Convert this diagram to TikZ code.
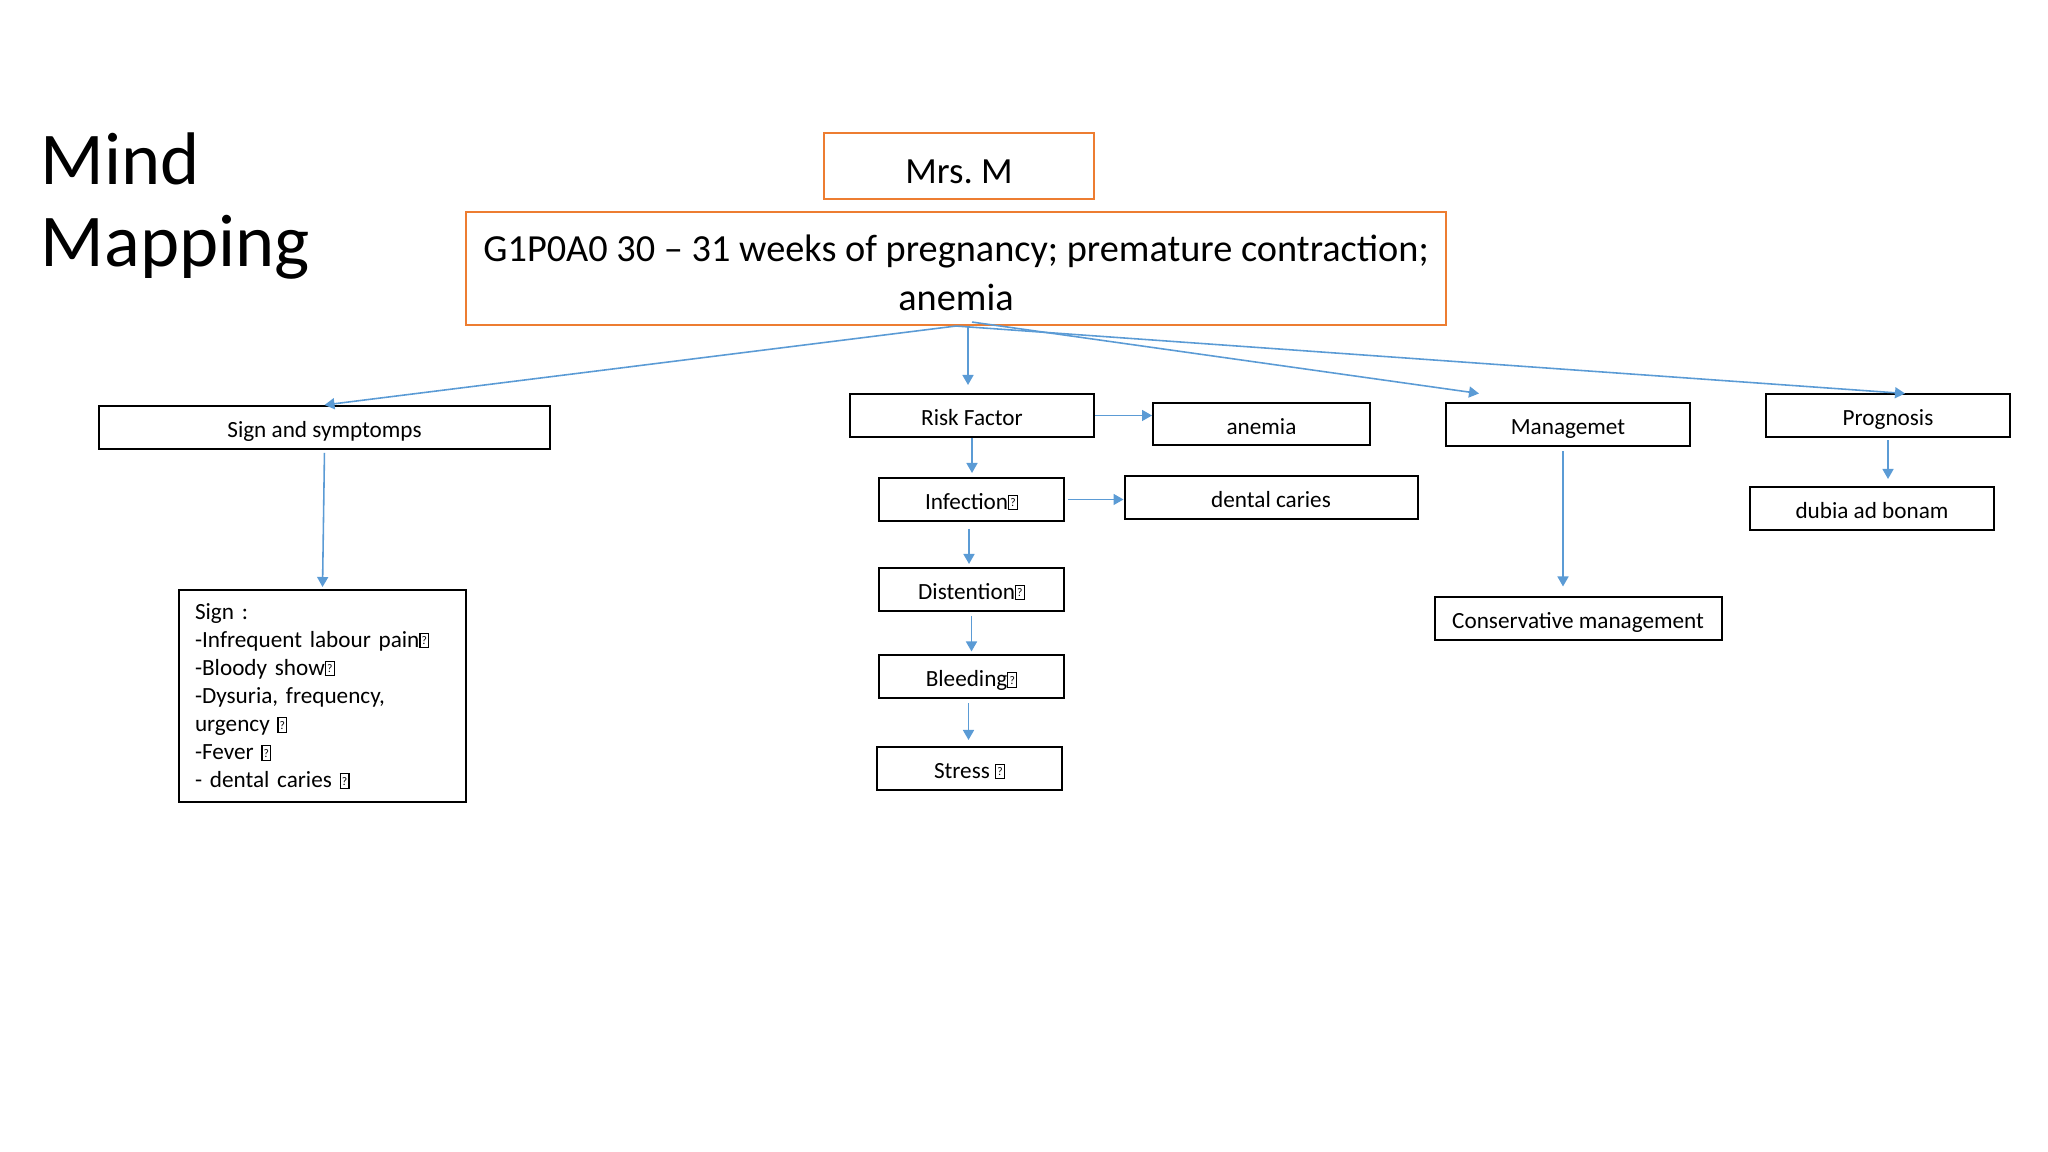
\documentclass[tikz,border=0pt]{standalone}
\usepackage{fontspec}
\setmainfont{Carlito}
\usetikzlibrary{arrows.meta}

\definecolor{linkblue}{HTML}{5B9BD5}
\definecolor{caseorange}{HTML}{ED7D31}

% small framed question mark (a glyph the slide font lacked)
\newcommand{\qbox}{{\setlength{\fboxsep}{0pt}\setlength{\fboxrule}{0.3pt}%
  \fbox{\makebox[2.2pt]{\rule{0pt}{3.8pt}\raisebox{0.7pt}{\fontsize{3.3}{3.3}\selectfont ?}}}}}
% lower a text inside its frame without changing the frame
\newcommand{\lowered}[2]{\raisebox{-#1}[\height][\depth]{#2}}

\begin{document}
\begin{tikzpicture}[x=0.1mm, y=-0.1mm,
  title/.style={font=\fontsize{21.2}{23}\selectfont, inner sep=0pt},
  casebox/.style={draw=caseorange, line width=0.6pt, inner sep=0pt},
  item/.style={draw=black, line width=0.57pt, inner sep=0pt,
    minimum height=4.3mm, text height=6.7pt, text depth=1.1pt,
    font=\fontsize{6.6}{8}\selectfont},
  link/.style={draw=linkblue, line width=0.45pt,
    -{Triangle[length=1mm, width=1.1mm]}}]

  \useasboundingbox (0,0) rectangle (2048,1152);

  % ---- Title ----
  \node[title, anchor=base west] (mind) at (40,185) {Mind};
  \node[title, anchor=base west] (mapping) at (40,267) {Mapping};

  % ---- Patient and diagnosis ----
  \node[casebox, minimum width=27mm, minimum height=6.6mm,
    font=\fontsize{10.5}{12}\selectfont] (mrs) at (959,166) {\lowered{0.6mm}{Mrs.\ M}};
  \node[casebox, minimum width=98mm, minimum height=11.3mm,
    font=\fontsize{10.9}{14.2}\selectfont] (main) at (956,268.5)
    {\lowered{0.75mm}{\begin{tabular}{@{}c@{}}G1P0A0 30 -- 31 weeks of pregnancy; premature contraction;\\ anemia\end{tabular}}};

  % ---- First level ----
  \node[item, minimum width=45.1mm] (sign) at (324.5,427.5) {Sign and symptomps};
  \node[item, minimum width=24.4mm] (risk) at (972,415.5) {Risk Factor};
  \node[item, minimum width=21.7mm, minimum height=4.2mm] (anemia) at (1261.5,424.5) {anemia};
  \node[item, minimum width=24.4mm, minimum height=4.3mm] (manage) at (1568,425) {Managemet};
  \node[item, minimum width=24.4mm] (prog) at (1888,416) {Prognosis};

  % ---- Risk factor chain ----
  \node[item, minimum width=18.5mm] (infect) at (971.5,499.5) {Infection\qbox};
  \node[item, minimum width=29.3mm] (caries) at (1271,497.5) {dental caries};
  \node[item, minimum width=18.5mm] (distent) at (971.5,589.5) {Distention\qbox};
  \node[item, minimum width=18.5mm] (bleed) at (971.5,677) {Bleeding\qbox};
  \node[item, minimum width=18.5mm] (stress) at (969.5,768.5) {Stress \qbox};

  % ---- Right-hand branches ----
  \node[item, minimum width=28.7mm] (conserv) at (1578,619) {Conservative management};
  \node[item, minimum width=24.4mm] (dubia) at (1872,508.5) {dubia ad bonam};

  % ---- Signs list ----
  \node[draw=black, line width=0.57pt, inner sep=0pt, minimum width=28.7mm,
    minimum height=21.2mm, align=left, text width=25.5mm,
    font=\fontsize{6.6}{8}\selectfont] (signlist) at (322.5,696)
    {Sign :\\
     -Infrequent labour pain\qbox\\
     -Bloody show\qbox\\
     -Dysuria, frequency,\\
     urgency \qbox\\
     -Fever \qbox\\
     - dental caries \qbox};

  % ---- Connectors from the diagnosis ----
  \draw[link] (main.south) -- (sign.north);
  \draw[link, shorten >=0.8mm] ([xshift=1.2mm]main.south) -- ([xshift=1.2mm]main.south |- risk.north);
  \draw[link] ([xshift=1.6mm, yshift=0.4mm]main.south) -- ([xshift=3.4mm, yshift=0.9mm]manage.north west);
  \draw[link] (main.south) -- ([xshift=1.7mm]prog.north);

  % ---- Connectors below ----
  \draw[link] (risk.east) -- (risk.east -| anemia.west);
  \draw[link, shorten >=0.4mm] (risk.south) -- (risk.south |- infect.north);
  \draw[link, shorten <=0.3mm] (infect.east) -- (infect.east -| caries.west);
  \draw[link, shorten <=0.7mm, shorten >=0.3mm] ([xshift=-0.25mm]infect.south) -- ([xshift=-0.25mm]infect.south |- distent.north);
  \draw[link, shorten <=0.4mm, shorten >=0.3mm] (distent.south) -- (distent.south |- bleed.north);
  \draw[link, shorten <=0.4mm, shorten >=0.6mm] ([xshift=-0.3mm]bleed.south) -- ([xshift=-0.3mm]bleed.south |- stress.north);
  \draw[link, shorten <=0.3mm, shorten >=0.2mm] (sign.south) -- (signlist.north);
  \draw[link, shorten <=0.4mm, shorten >=1mm] ([xshift=-0.5mm]manage.south) -- ([xshift=-0.5mm]manage.south |- conserv.north);
  \draw[link, shorten <=0.2mm, shorten >=0.7mm] (prog.south) -- (prog.south |- dubia.north);

\end{tikzpicture}
\end{document}
